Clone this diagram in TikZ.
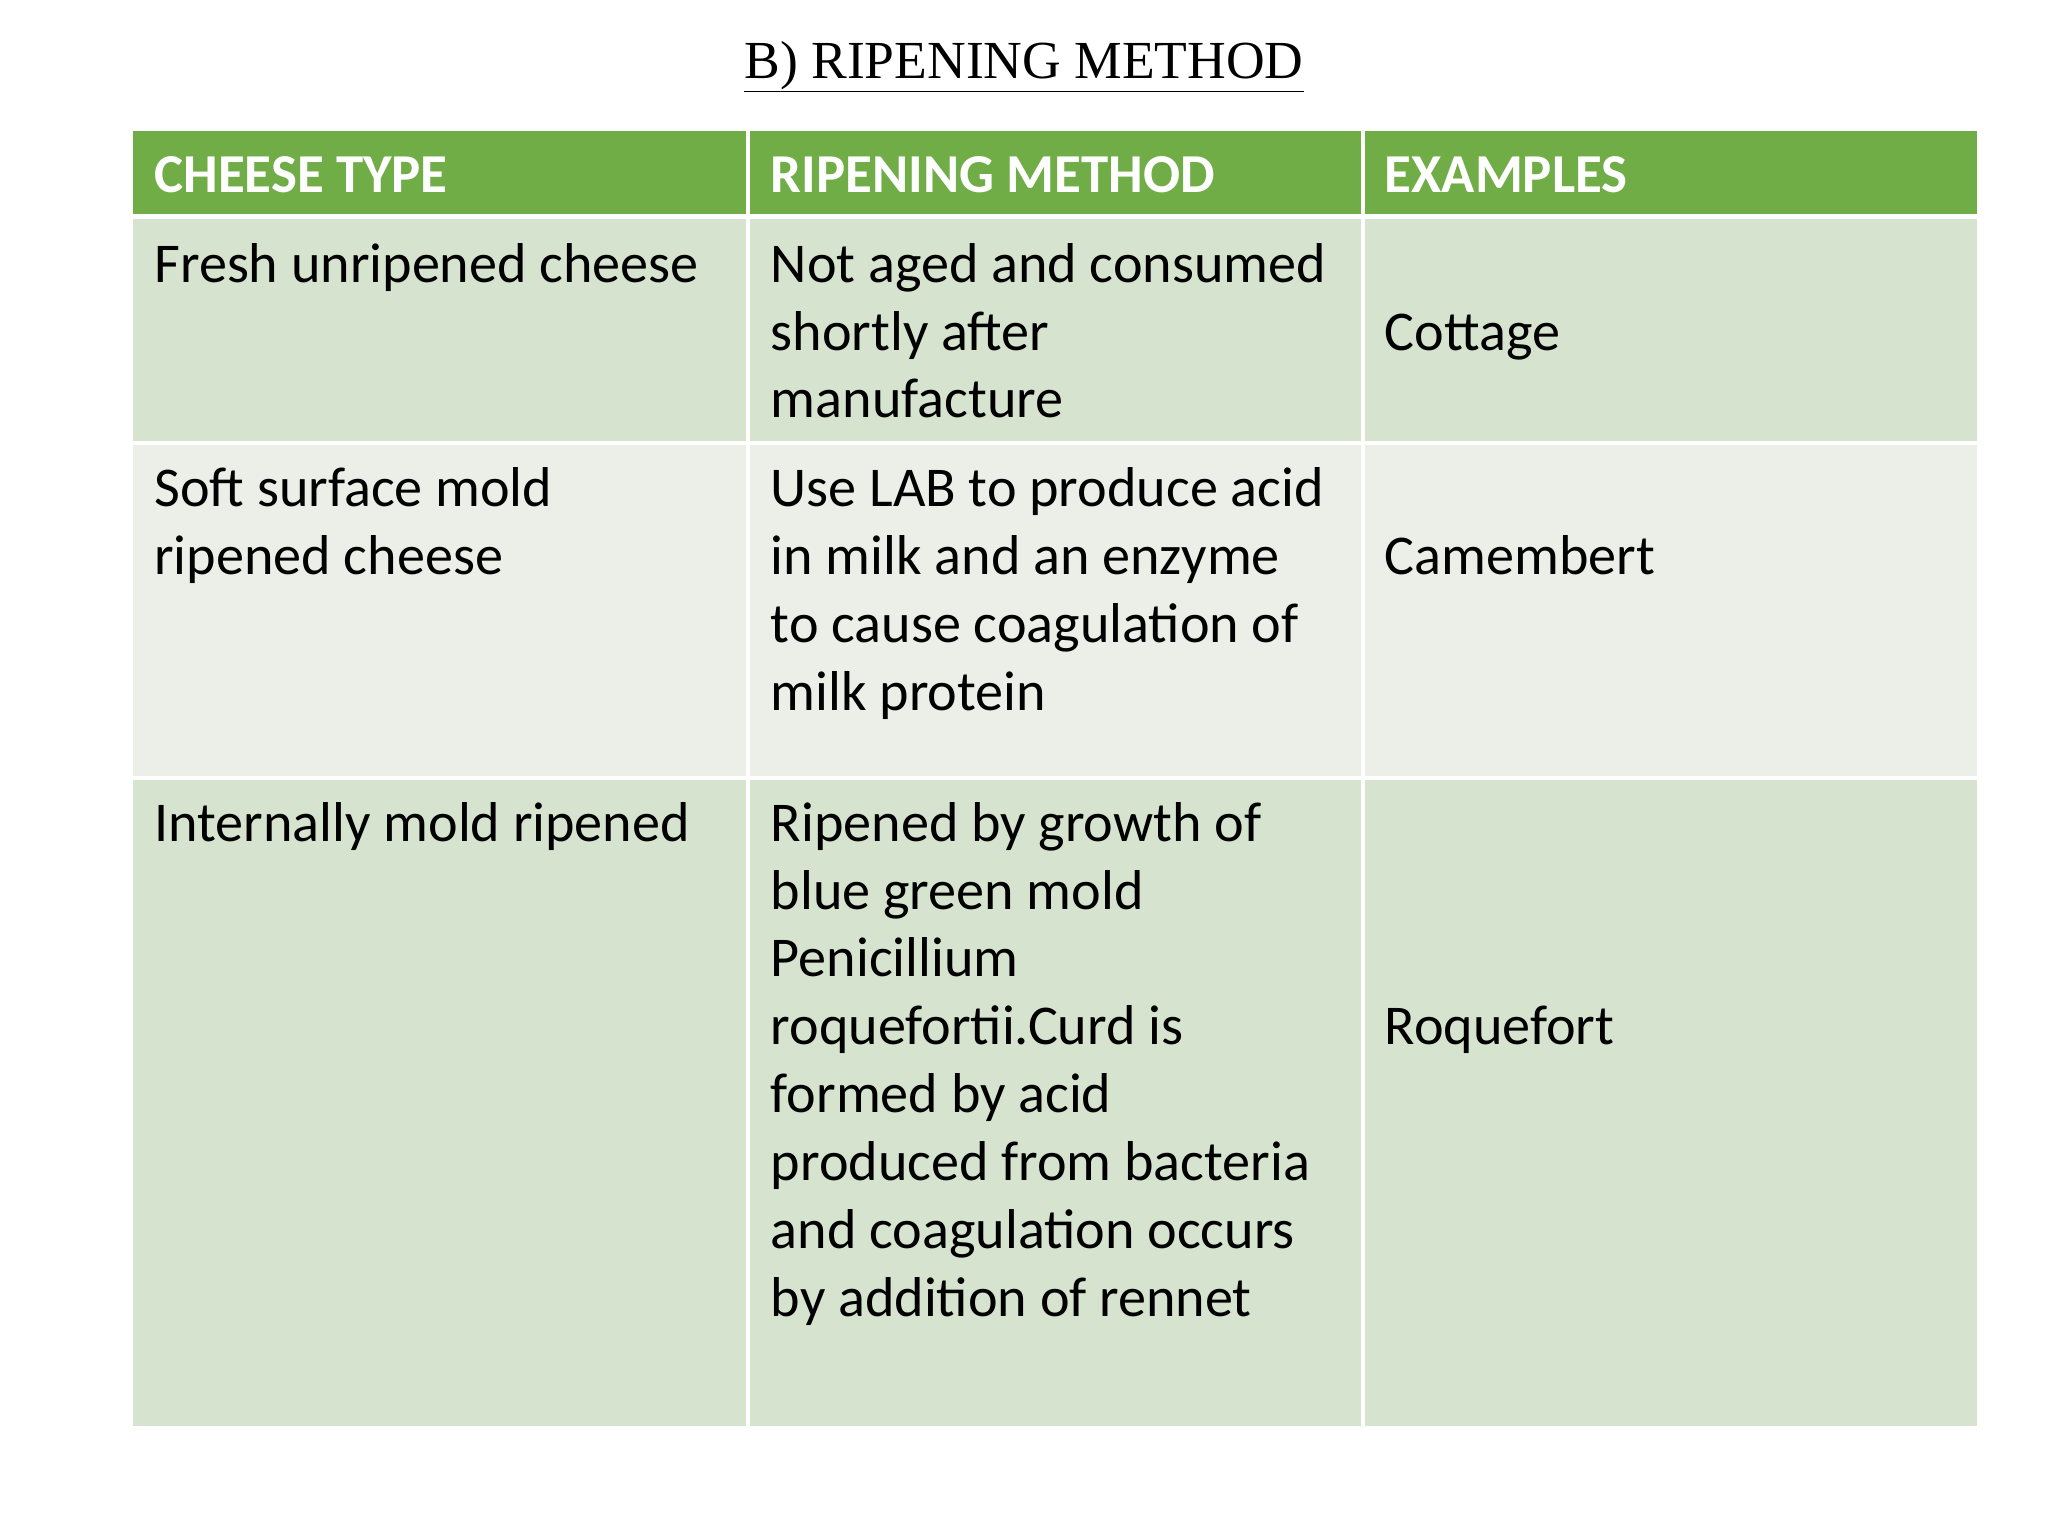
\documentclass[tikz,border=0pt]{standalone}
\usepackage{fontspec}
\setmainfont{Carlito}
\newfontfamily\titlefont{Liberation Serif}
\definecolor{hdr}{HTML}{70AD47}
\definecolor{rowA}{HTML}{D5E3CF}
\definecolor{rowB}{HTML}{EBEFE8}
\begin{document}
\begin{tikzpicture}[x=1bp,y=-1bp,
  cell/.style={anchor=base west,inner sep=0,align=left,font=\fontsize{43bp}{52bp}\selectfont},
  head/.style={anchor=base west,inner sep=0,text=white,font=\fontsize{42bp}{46bp}\selectfont\bfseries}]
\useasboundingbox (0,0) rectangle (1568,1176);
\fill[white] (0,0) rectangle (1568,1176);
\foreach \a/\b in {102/571,574/1042,1045/1514}{
  \fill[hdr] (\a,100) rectangle (\b,164);
  \fill[rowA] (\a,168) rectangle (\b,338);
  \fill[rowB] (\a,341) rectangle (\b,594);
  \fill[rowA] (\a,597) rectangle (\b,1092);
}
\node[anchor=base,inner sep=0,font=\titlefont\fontsize{41bp}{46bp}\selectfont] (title) at (784,60) {\underline{B) RIPENING METHOD}};
\node[head] (h1) at (118,147) {CHEESE TYPE};
\node[head] (h2) at (590,147) {RIPENING METHOD};
\node[head] (h3) at (1060,147) {EXAMPLES};
\node[cell] (a1) at (118,216) {Fresh unripened cheese};
\node[cell] (b1) at (590,320) {Not aged and consumed\\shortly after\\manufacture};
\node[cell] (c1) at (1060,268) {Cottage};
\node[cell] (a2) at (118,440) {Soft surface mold\\ripened cheese};
\node[cell] (b2) at (590,544) {Use LAB to produce acid\\in milk and an enzyme\\to cause coagulation of\\milk protein};
\node[cell] (c2) at (1060,440) {Camembert};
\node[cell] (a3) at (118,644) {Internally mold ripened};
\node[cell] (b3) at (590,1008) {Ripened by growth of\\blue green mold\\Penicillium\\roquefortii.Curd is\\formed by acid\\produced from bacteria\\and coagulation occurs\\by addition of rennet};
\node[cell] (c3) at (1060,800) {Roquefort};
\end{tikzpicture}
\end{document}
